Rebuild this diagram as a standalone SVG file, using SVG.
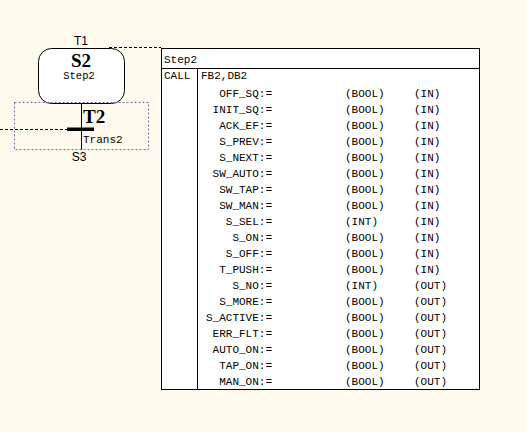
<svg xmlns="http://www.w3.org/2000/svg" width="527" height="432" viewBox="0 0 527 432">
<style>
.m{font-family:"Liberation Mono","DejaVu Sans Mono",monospace;font-size:11px;fill:#000}
.e{text-anchor:end}
.s{font-family:"Liberation Sans",Arial,sans-serif;font-size:12px;fill:#000}
.b{font-family:"Liberation Serif","Times New Roman",serif;font-weight:bold;font-size:19px;fill:#000}
.d{stroke:#000;stroke-width:1;stroke-dasharray:3,2;fill:none}
</style>
<rect width="527" height="432" fill="#FFF9EE"/>
<g id="connectors">
<line class="d" x1="109" y1="47.5" x2="161" y2="47.5"/>
<line class="d" x1="0" y1="129.5" x2="68" y2="129.5"/>
<line x1="81.5" y1="103" x2="81.5" y2="150" stroke="#000" stroke-width="1"/>
</g>
<g id="step-S2">
<text class="s" x="81" y="45" text-anchor="middle">T1</text>
<rect x="38.5" y="48.5" width="86" height="55" rx="13" ry="13" fill="#fff" stroke="#000" stroke-width="1"/>
<text class="b" x="81" y="67" text-anchor="middle">S2</text>
<text class="m" x="79" y="79" text-anchor="middle" style="font-size:10.5px">Step2</text>
</g>
<g id="trans-T2">
<rect x="14.5" y="102.5" width="134" height="47" fill="none" stroke="#7070a8" stroke-width="1" stroke-dasharray="2,2"/>
<rect x="67" y="127.5" width="27" height="3.5" fill="#000"/>
<text class="b" x="83" y="123">T2</text>
<text class="m" x="83" y="143">Trans2</text>
<text class="s" x="79" y="161" text-anchor="middle">S3</text>
</g>
<g id="table-Step2">
<rect x="161.5" y="48.5" width="318" height="341" fill="#fff" stroke="#000" stroke-width="1"/>
<line x1="161.5" y1="68.5" x2="479.5" y2="68.5" stroke="#000"/>
<line x1="197.5" y1="68.5" x2="197.5" y2="389.5" stroke="#000"/>
<text class="m" x="164" y="63">Step2</text>
<text class="m" x="164" y="79">CALL</text>
<text class="m" x="201" y="79">FB2,DB2</text>
<g class="m">
<text class="e" x="272" y="97">OFF_SQ:=</text><text x="345" y="97">(BOOL)</text><text x="414" y="97">(IN)</text>
<text class="e" x="272" y="113">INIT_SQ:=</text><text x="345" y="113">(BOOL)</text><text x="414" y="113">(IN)</text>
<text class="e" x="272" y="129">ACK_EF:=</text><text x="345" y="129">(BOOL)</text><text x="414" y="129">(IN)</text>
<text class="e" x="272" y="145">S_PREV:=</text><text x="345" y="145">(BOOL)</text><text x="414" y="145">(IN)</text>
<text class="e" x="272" y="161">S_NEXT:=</text><text x="345" y="161">(BOOL)</text><text x="414" y="161">(IN)</text>
<text class="e" x="272" y="177">SW_AUTO:=</text><text x="345" y="177">(BOOL)</text><text x="414" y="177">(IN)</text>
<text class="e" x="272" y="193">SW_TAP:=</text><text x="345" y="193">(BOOL)</text><text x="414" y="193">(IN)</text>
<text class="e" x="272" y="209">SW_MAN:=</text><text x="345" y="209">(BOOL)</text><text x="414" y="209">(IN)</text>
<text class="e" x="272" y="225">S_SEL:=</text><text x="345" y="225">(INT)</text><text x="414" y="225">(IN)</text>
<text class="e" x="272" y="241">S_ON:=</text><text x="345" y="241">(BOOL)</text><text x="414" y="241">(IN)</text>
<text class="e" x="272" y="257">S_OFF:=</text><text x="345" y="257">(BOOL)</text><text x="414" y="257">(IN)</text>
<text class="e" x="272" y="273">T_PUSH:=</text><text x="345" y="273">(BOOL)</text><text x="414" y="273">(IN)</text>
<text class="e" x="272" y="289">S_NO:=</text><text x="345" y="289">(INT)</text><text x="414" y="289">(OUT)</text>
<text class="e" x="272" y="305">S_MORE:=</text><text x="345" y="305">(BOOL)</text><text x="414" y="305">(OUT)</text>
<text class="e" x="272" y="321">S_ACTIVE:=</text><text x="345" y="321">(BOOL)</text><text x="414" y="321">(OUT)</text>
<text class="e" x="272" y="337">ERR_FLT:=</text><text x="345" y="337">(BOOL)</text><text x="414" y="337">(OUT)</text>
<text class="e" x="272" y="353">AUTO_ON:=</text><text x="345" y="353">(BOOL)</text><text x="414" y="353">(OUT)</text>
<text class="e" x="272" y="369">TAP_ON:=</text><text x="345" y="369">(BOOL)</text><text x="414" y="369">(OUT)</text>
<text class="e" x="272" y="385">MAN_ON:=</text><text x="345" y="385">(BOOL)</text><text x="414" y="385">(OUT)</text>
</g>
</g>
</svg>
